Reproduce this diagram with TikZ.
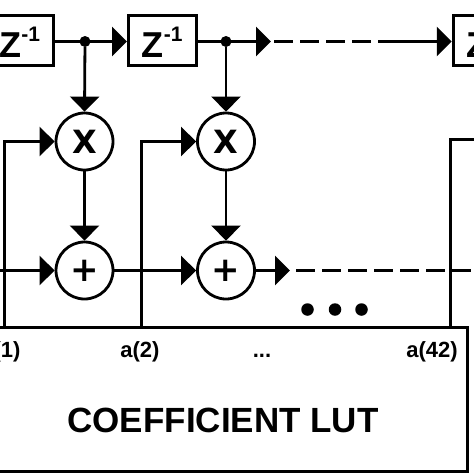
\documentclass[tikz,border=0pt]{standalone}
\usepackage{fontspec}
\setmainfont{Liberation Sans}
\newfontfamily\heavyfont[BoldFont={DejaVu Sans Bold}]{DejaVu Sans}
\usetikzlibrary{arrows.meta}
\tikzset{
  wire/.style={line width=2.8pt,draw=black},
  arrowed/.style={wire,-{Triangle[length=15pt,width=29pt]}},
  dashwire/.style={wire,dash pattern=on 19pt off 7pt},
  delaybox/.style={draw=black,line width=3pt,minimum width=67.5pt,minimum height=49.5pt,inner sep=0pt,fill=white,font=\bfseries\fontsize{36}{36}\selectfont},
  opnode/.style={circle,draw=black,line width=2.8pt,minimum size=57pt,inner sep=0pt,fill=white},
  junction/.style={circle,fill=black,inner sep=0pt,minimum size=11pt},
  bigdot/.style={circle,fill=black,inner sep=0pt,minimum size=12.5pt},
  coef/.style={anchor=base,font=\bfseries\fontsize{22}{22}\selectfont},
  lutbox/.style={draw=black,line width=3pt,inner sep=0pt,fill=white}
}
\newcommand{\zinv}{\smash{\raisebox{-16.75pt}{Z\raisebox{16pt}{\fontsize{21}{21}\selectfont -1}}}}
\begin{document}
\begin{tikzpicture}[x=1pt,y=-1pt]
\useasboundingbox (0,0) rectangle (474,474);
\clip (0,0) rectangle (474,474);
\node[delaybox] (d1) at (19.75,40.25) {\zinv};
\node[delaybox] (d2) at (162.25,40.25) {\zinv};
\node[delaybox] (d3) at (487,40.25) {\zinv};
\node[opnode,font=\heavyfont\bfseries\fontsize{32}{32}\selectfont] (x1) at (84.5,141.5) {X};
\node[opnode,font=\heavyfont\bfseries\fontsize{32}{32}\selectfont] (x2) at (226,141.5) {X};
\node[opnode,font=\heavyfont\bfseries\fontsize{34}{34}\selectfont] (p1) at (84.5,270.5) {+};
\node[opnode,font=\heavyfont\bfseries\fontsize{34}{34}\selectfont] (p2) at (226,270.5) {+};
\coordinate (lutNW) at (-10,327);
\coordinate (lutSE) at (467,471);
\draw[lutbox] (lutNW) rectangle (lutSE);
\node[junction] (j1) at (85,41.5) {};
\node[junction] (j2) at (226,41.5) {};
\coordinate (t2) at (271,41.5);
\coordinate (ds) at (274,41.5);
\coordinate (de) at (378,41.5);
\coordinate (f1) at (4.5,327);
\coordinate (f2) at (141.5,327);
\coordinate (f3) at (450.5,327);
\coordinate (f3e) at (474,139.5);
\coordinate (in) at (0,270.5);
\coordinate (t4) at (290,270.5);
\coordinate (s5) at (296,270.5);
\coordinate (e5) at (474,270.5);
% delay chain
\draw[arrowed] (d1.east|-j1) -- (d2.west|-j1);
\draw[arrowed] (d2.east|-j2) -- (t2);
\draw[dashwire] (ds) -- (de);
\draw[arrowed] (de) -- (d3.west|-de);
% taps
\draw[arrowed] (j1) -- (x1.north);
\draw[arrowed] (j2) -- (x2.north);
\draw[arrowed] (x1.south) -- (p1.north);
\draw[arrowed] (x2.south) -- (p2.north);
% coefficients
\draw[arrowed] (f1) |- (x1.west);
\draw[arrowed] (f2) |- (x2.west);
\draw[wire] (f3) |- (f3e);
% sum chain
\draw[arrowed] (in) -- (p1.west);
\draw[arrowed] (p1.east) -- (p2.west);
\draw[arrowed] (p2.east) -- (t4);
\draw[dashwire] (s5) -- (e5);
% dots
\node[bigdot] (b1) at (307.5,309.5) {};
\node[bigdot] (b2) at (335,309.5) {};
\node[bigdot] (b3) at (361.5,309.5) {};
% labels
\node[coef] (a1) at (1,357) {a(1)};
\node[coef] (a2) at (140,357) {a(2)};
\node[coef] (ad) at (262,357) {...};
\node[coef] (a42) at (432,357) {a(42)};
\node[anchor=base,font=\bfseries\fontsize{35}{35}\selectfont] (lut) at (223,432) {COEFFICIENT LUT};
\end{tikzpicture}
\end{document}
